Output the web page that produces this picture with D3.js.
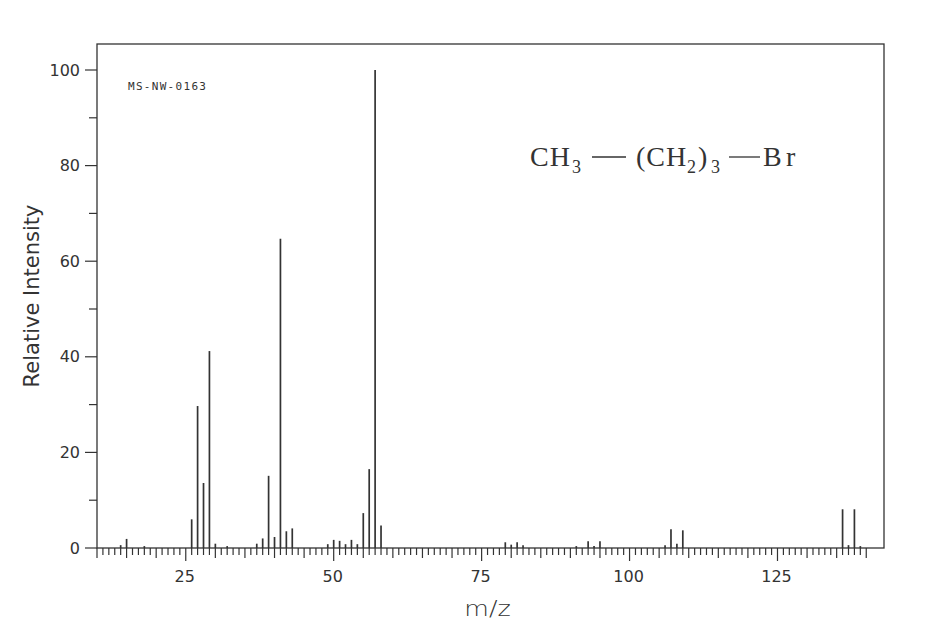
<!DOCTYPE html>
<html>
<head>
<meta charset="utf-8">
<script src="https://cdn.jsdelivr.net/npm/d3@7"></script>
<style>
  body { margin: 0; background: #fff; }
  svg { display: block; }
  text { font-family: "DejaVu Sans", sans-serif; fill: #333; }
</style>
</head>
<body>
<svg id="chart" width="952" height="642"></svg>
<script>
// peaks (m/z, relative intensity)
const mz = [14, 15, 18, 26, 27, 28, 29, 30, 32, 37, 38, 39, 40, 41, 42, 43,
            49, 50, 51, 52, 53, 54, 55, 56, 57, 58,
            79, 80, 81, 82, 91, 93, 94, 95, 106, 107, 108, 109, 136, 137, 138, 139];
const intensity = [0.6, 1.9, 0.4, 6.0, 29.7, 13.6, 41.2, 0.9, 0.4, 0.9, 2.0, 15.1, 2.3, 64.7, 3.5, 4.1,
                   0.8, 1.7, 1.5, 0.8, 1.7, 0.8, 7.3, 16.5, 100, 4.7,
                   1.2, 0.7, 1.2, 0.6, 0.4, 1.4, 0.4, 1.4, 0.6, 3.9, 0.9, 3.7, 8.1, 0.6, 8.1, 0.4];
const xTickLabels = [25, 50, 75, 100, 125];
const yTickLabels = [0, 20, 40, 60, 80, 100];
const specId = "MS-NW-0163";

const peaks = mz.map((m, i) => ({mz: m, y: intensity[i]}));

const svg = d3.select("#chart");
const margin = {left: 97, right: 68, top: 44, bottom: 94};
const dim = {w: 952, h: 642};

const x = d3.scaleLinear()
    .domain([10, 143])
    .range([margin.left, dim.w - margin.right]);
const y = d3.scaleLinear()
    .domain([0, 100])
    .range([dim.h - margin.bottom, 70]);

const base = y(0);

// frame
svg.append("rect")
    .attr("x", margin.left)
    .attr("y", margin.top)
    .attr("width", dim.w - margin.right - margin.left)
    .attr("height", base - margin.top)
    .attr("fill", "none")
    .attr("stroke", "#333")
    .attr("stroke-width", 1.3);

// x ticks: every 1, longer every 5, longest at labels
const xTicks = d3.range(10, 141);
svg.append("g").attr("class", "x-ticks")
    .selectAll("line")
    .data(xTicks)
    .join("line")
    .attr("x1", d => x(d)).attr("x2", d => x(d))
    .attr("y1", base)
    .attr("y2", d => base + (d % 25 === 0 ? 13 : d % 5 === 0 ? 10 : 7))
    .attr("stroke", "#333")
    .attr("stroke-width", 1.2);

svg.append("g").attr("class", "x-labels")
    .selectAll("text")
    .data(xTickLabels)
    .join("text")
    .attr("x", d => x(d) - 1)
    .attr("y", base + 34)
    .attr("text-anchor", "middle")
    .style("font-size", "16px")
    .text(d => d);

// y ticks: labelled every 20, minor every 10
const yTicks = d3.range(0, 101, 10);
svg.append("g").attr("class", "y-ticks")
    .selectAll("line")
    .data(yTicks)
    .join("line")
    .attr("x1", d => margin.left - (d % 20 === 0 ? 12 : 8))
    .attr("x2", margin.left)
    .attr("y1", d => y(d)).attr("y2", d => y(d))
    .attr("stroke", "#333")
    .attr("stroke-width", 1.2);

svg.append("g").attr("class", "y-labels")
    .selectAll("text")
    .data(yTickLabels)
    .join("text")
    .attr("x", margin.left - 17)
    .attr("y", d => y(d))
    .attr("dy", "0.35em")
    .attr("text-anchor", "end")
    .style("font-size", "16px")
    .text(d => d);

// axis titles
svg.append("text")
    .attr("transform", `translate(${x(76)}, ${base + 68}) scale(1.15,1)`)
    .attr("text-anchor", "middle")
    .style("font-size", "22px")
    .style("font-weight", "300")
    .text("m/z");

svg.append("text")
    .attr("transform", `translate(39, 296) rotate(-90)`)
    .attr("text-anchor", "middle")
    .style("font-size", "21px")
    .text("Relative Intensity");

// peaks
svg.append("g").attr("class", "peaks")
    .selectAll("line")
    .data(peaks)
    .join("line")
    .attr("x1", d => x(d.mz)).attr("x2", d => x(d.mz))
    .attr("y1", base)
    .attr("y2", d => y(d.y))
    .attr("stroke", "#333")
    .attr("stroke-width", 1.7);

// spectrum id
svg.append("text")
    .attr("x", 128)
    .attr("y", 90)
    .style("font-family", "'DejaVu Sans Mono', monospace")
    .style("font-size", "11px")
    .style("letter-spacing", "1.3px")
    .text(specId);

// structure formula
const fy = 166;
const main = "28px", sub = "18px";
const fText = (xPos, txt, size, dy) => svg.append("text")
    .attr("x", xPos)
    .attr("y", fy + (dy || 0))
    .style("font-family", "'Liberation Serif', serif")
    .style("font-size", size)
    .style("letter-spacing", "1px")
    .text(txt);
const fDash = (x1, x2) => svg.append("line")
    .attr("x1", x1).attr("x2", x2)
    .attr("y1", fy - 9).attr("y2", fy - 9)
    .attr("stroke", "#333")
    .attr("stroke-width", 1.3);

fText(530, "CH", main);
fText(572, "3", sub, 7);
fDash(592, 626);
fText(636, "(CH", main);
fText(687, "2", sub, 7);
fText(698, ")", main);
fText(711, "3", sub, 7);
fDash(729, 760);
fText(763, "B", main);
fText(786, "r", main);
</script>
</body>
</html>
